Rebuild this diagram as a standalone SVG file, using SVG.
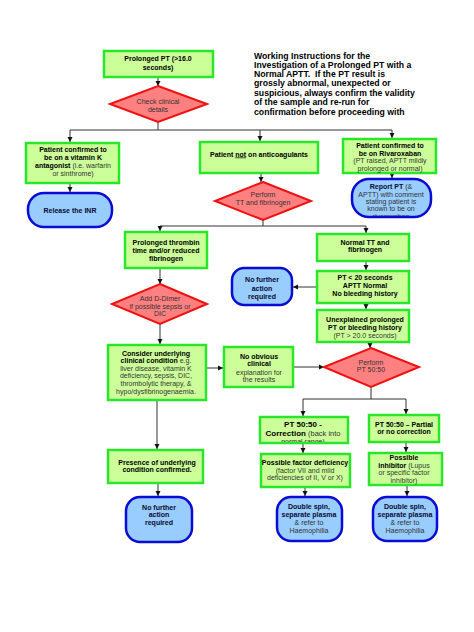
<svg xmlns="http://www.w3.org/2000/svg" width="474" height="632" viewBox="0 0 474 632">
<defs>
<style>
.g{fill:#ccff99;stroke:#2ae62a;stroke-width:2.5}
.b{fill:#99ccff;stroke:#0b0bd6;stroke-width:2.5}
.d{fill:#ff8080;stroke:#f01010;stroke-width:2}
text{font-family:"Liberation Sans",Arial,sans-serif;font-size:7px;text-anchor:middle;fill:#333}
.t{font-weight:bold;fill:#000}
.bt{font-weight:bold;fill:#0a0a33}
.h{font-size:8.7px;font-weight:bold;fill:#000;text-anchor:start}
.c path{fill:none;stroke:#333;stroke-width:1;marker-end:url(#ah)}
.c path.n{marker-end:none}
</style>
<marker id="ah" markerWidth="6" markerHeight="6" refX="5" refY="3" orient="auto" markerUnits="userSpaceOnUse"><path d="M0,0.5 L5,3 L0,5.5 z" fill="#111"/></marker>
<clipPath id="cpReport"><rect x="353" y="180" width="77" height="36" rx="17"/></clipPath>
<clipPath id="cpCorr"><rect x="261" y="418" width="86" height="24"/></clipPath>
</defs>
<rect width="474" height="632" fill="#fff"/>

<g id="heading">
<text class="h" x="254" y="58.7">Working Instructions for the</text>
<text class="h" x="254" y="68">Investigation of a Prolonged PT with a</text>
<text class="h" x="254" y="77" xml:space="preserve">Normal APTT.  If the PT result is</text>
<text class="h" x="254" y="86.3">grossly abnormal, unexpected or</text>
<text class="h" x="254" y="95.7">suspicious, always confirm the validity</text>
<text class="h" x="254" y="105">of the sample and re-run for</text>
<text class="h" x="254" y="114.5">confirmation before proceeding with</text>
</g>

<g class="c" id="connectors">
<path d="M158,77 V86"/>
<path class="n" d="M158,122 V130"/>
<path class="n" d="M70,130 H392"/>
<path d="M70,130 V142"/>
<path d="M260,130 V141"/>
<path d="M392,130 V138"/>
<path d="M70,183 V192"/>
<path d="M261,173 V182"/>
<path d="M392,173 V178"/>
<path class="n" d="M263,220 V226"/>
<path class="n" d="M160,226 H366"/>
<path d="M160,226 V231"/>
<path d="M366,226 V233"/>
<path d="M160,268 V284"/>
<path d="M160,324 V344"/>
<path d="M366,261 V270"/>
<path d="M317,287 H293"/>
<path d="M366,303 V309"/>
<path d="M370,342 V348"/>
<path d="M206,368 H223"/>
<path d="M293,367 H324"/>
<path class="n" d="M371,387 V399"/>
<path class="n" d="M303,399 H406"/>
<path d="M303,399 V416"/>
<path d="M406,399 V414"/>
<path d="M303,443 V453"/>
<path d="M406,442 V452"/>
<path d="M305,487 V496"/>
<path d="M407,485 V496"/>
<path d="M157,400 V449"/>
<path d="M158,483 V496"/>
</g>

<g id="n-prolonged">
<rect class="g" x="104" y="51" width="109" height="26"/>
<text class="t" x="158" y="60.5">Prolonged PT (&gt;16.0</text>
<text class="t" x="158" y="69.5">seconds)</text>
</g>

<g id="n-check">
<polygon class="d" points="158,86 207,104 158,122 110,104"/>
<text x="158" y="103.5">Check clinical</text>
<text x="158" y="111.5">details</text>
</g>

<g id="n-vitk">
<rect class="g" x="26" y="143" width="93" height="40"/>
<text class="t" x="73" y="151.5">Patient confirmed to</text>
<text class="t" x="73" y="159.5">be on a vitamin K</text>
<text x="73" y="167.5"><tspan class="t">antagonist</tspan> (i.e. warfarin</text>
<text x="73" y="175.5">or sinthrome)</text>
</g>

<g id="n-release">
<rect class="b" x="28" y="193" width="84" height="34" rx="16"/>
<text class="bt" x="70" y="212.5">Release the INR</text>
</g>

<g id="n-notanti">
<rect class="g" x="200" y="142" width="118" height="31"/>
<text class="t" x="259" y="156.5">Patient <tspan text-decoration="underline">not</tspan> on anticoagulants</text>
</g>

<g id="n-performtt">
<polygon class="d" points="263,182 311,201 263,220 215,201"/>
<text x="263" y="196.5">Perform</text>
<text x="263" y="204.5">TT and fibrinogen</text>
</g>

<g id="n-rivaroxaban">
<rect class="g" x="343" y="139" width="93" height="34"/>
<text class="t" x="390" y="147.5">Patient confirmed to</text>
<text class="t" x="390" y="155.5">be on Rivaroxaban</text>
<text x="390" y="163">(PT raised, APTT mildly</text>
<text x="390" y="170.5">prolonged or normal)</text>
</g>

<g id="n-report">
<rect class="b" x="352" y="179" width="79" height="38" rx="17"/>
<g clip-path="url(#cpReport)">
<text x="391" y="188.5"><tspan class="bt">Report PT</tspan> (&amp;</text>
<text x="391" y="196.5">APTT) with comment</text>
<text x="391" y="203.5">stating patient is</text>
<text x="391" y="211">known to be on</text>
<text x="391" y="218.5">rivaroxaban</text>
</g>
</g>

<g id="n-prolongedtt">
<rect class="g" x="125" y="232" width="82" height="36"/>
<text class="t" x="166" y="244.5">Prolonged thrombin</text>
<text class="t" x="166" y="252.5">time and/or reduced</text>
<text class="t" x="166" y="260.5">fibrinogen</text>
</g>

<g id="n-ddimer">
<polygon class="d" points="160,284 207,304 160,324 112,304"/>
<text x="160" y="300.5">Add D-Dimer</text>
<text x="160" y="308.5">if possible sepsis or</text>
<text x="160" y="315.5">DIC</text>
</g>

<g id="n-nofurther1">
<rect class="b" x="232" y="268" width="60" height="37" rx="12"/>
<text class="bt" x="262" y="281.5">No further</text>
<text class="bt" x="262" y="290.5">action</text>
<text class="bt" x="262" y="298.5">required</text>
</g>

<g id="n-normaltt">
<rect class="g" x="317" y="234" width="92" height="27"/>
<text class="t" x="365" y="244.5">Normal TT and</text>
<text class="t" x="365" y="251.5">fibrinogen</text>
</g>

<g id="n-pt20">
<rect class="g" x="317" y="271" width="92" height="32"/>
<text class="t" x="365" y="279.5">PT &lt; 20 seconds</text>
<text class="t" x="365" y="287.5">APTT Normal</text>
<text class="t" x="365" y="295.5">No bleeding history</text>
</g>

<g id="n-unexplained">
<rect class="g" x="317" y="310" width="92" height="32"/>
<text class="t" x="365" y="321.5">Unexplained prolonged</text>
<text class="t" x="365" y="329.5">PT or bleeding history</text>
<text x="365" y="337.5">(PT &gt; 20.0 seconds)</text>
</g>

<g id="n-perform5050">
<polygon class="d" points="371,348 419,367 371,387 324,367"/>
<text x="371" y="364.5">Perform</text>
<text x="371" y="371.5">PT 50:50</text>
</g>

<g id="n-noobvious">
<rect class="g" x="224" y="347" width="69" height="40"/>
<text class="t" x="259" y="358.5">No obvious</text>
<text class="t" x="259" y="365.5">clinical</text>
<text x="259" y="374.5">explanation for</text>
<text x="259" y="381.5">the results</text>
</g>

<g id="n-consider">
<rect class="g" x="108" y="345" width="98" height="55"/>
<text class="t" x="156" y="355.5">Consider underlying</text>
<text x="156" y="362.5"><tspan class="t">clinical condition</tspan> e.g.</text>
<text x="156" y="370.5">liver disease, vitamin K</text>
<text x="156" y="377.5">deficiency, sepsis, DIC,</text>
<text x="156" y="385.5">thrombolytic therapy, &amp;</text>
<text x="156" y="393.5">hypo/dysfibrinogenaemia.</text>
</g>

<g id="n-correction">
<rect class="g" x="260" y="417" width="88" height="26"/>
<text class="t" x="303" y="427" style="font-size:8px">PT 50:50 -</text>
<g clip-path="url(#cpCorr)">
<text x="303" y="436" style="font-size:7.5px"><tspan class="t" style="font-size:8px">Correction</tspan> (back into</text>
<text x="303" y="444">normal range)</text>
</g>
</g>

<g id="n-partial">
<rect class="g" x="369" y="415" width="70" height="27"/>
<text class="t" x="404" y="426.5">PT 50:50 – Partial</text>
<text class="t" x="404" y="433.5">or no correction</text>
</g>

<g id="n-factor">
<rect class="g" x="261" y="454" width="89" height="33"/>
<text class="t" x="305" y="464.5">Possible factor deficiency</text>
<text x="305" y="472.5">(factor VII and mild</text>
<text x="305" y="479.5">deficiencies of II, V or X)</text>
</g>

<g id="n-inhibitor">
<rect class="g" x="369" y="453" width="73" height="32"/>
<text class="t" x="404" y="459.5">Possible</text>
<text x="404" y="467.5"><tspan class="t">inhibitor</tspan> (Lupus</text>
<text x="404" y="474.5">or specific factor</text>
<text x="404" y="482.5">inhibitor)</text>
</g>

<g id="n-dspin1">
<rect class="b" x="277" y="497" width="65" height="44" rx="14"/>
<text class="bt" x="309" y="508.5">Double spin,</text>
<text class="bt" x="309" y="516.5">separate plasma</text>
<text x="309" y="524.5">&amp; refer to</text>
<text x="309" y="532.5">Haemophilia</text>
</g>

<g id="n-dspin2">
<rect class="b" x="373" y="497" width="64" height="44" rx="14"/>
<text class="bt" x="405" y="508.5">Double spin,</text>
<text class="bt" x="405" y="516.5">separate plasma</text>
<text x="405" y="524.5">&amp; refer to</text>
<text x="405" y="532.5">Haemophilia</text>
</g>

<g id="n-presence">
<rect class="g" x="108" y="450" width="95" height="33"/>
<text class="t" x="157" y="464.5">Presence of underlying</text>
<text class="t" x="157" y="471.5">condition confirmed.</text>
</g>

<g id="n-nofurther2">
<rect class="b" x="126" y="497" width="66" height="45" rx="14"/>
<text class="bt" x="159" y="509.5">No further</text>
<text class="bt" x="159" y="516.5">action</text>
<text class="bt" x="159" y="524.5">required</text>
</g>
</svg>
